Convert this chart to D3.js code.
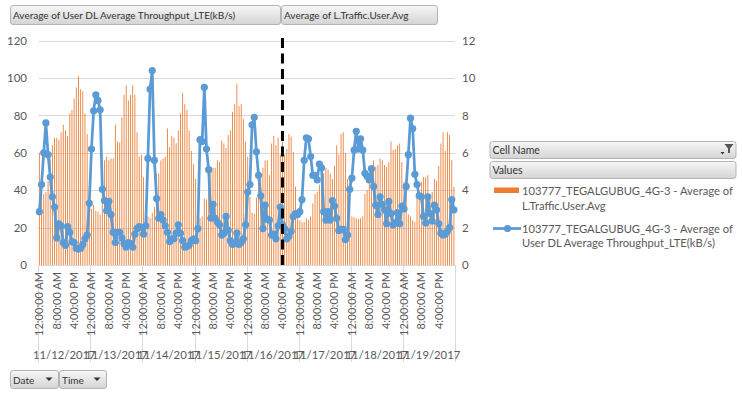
<!DOCTYPE html>
<html>
<head>
<meta charset="utf-8">
<script src="https://cdn.jsdelivr.net/npm/d3@7"></script>
<style>
  html, body { margin: 0; padding: 0; background: #fff; }
  svg { display: block; font-family: Lato, 'Liberation Sans', sans-serif; }
</style>
</head>
<body>
<div id="chart"></div>
<script>
const dates = ['11/12/2017', '11/13/2017', '11/14/2017', '11/15/2017', '11/16/2017', '11/17/2017', '11/18/2017', '11/19/2017'];
const hourTicks = [0, 8, 16];
const hourTickLabels = ['12:00:00 AM', '8:00:00 AM', '4:00:00 PM'];

// Average of User DL Average Throughput_LTE(kB/s), hourly, left axis
const throughput = [
  28.5, 43, 60, 76, 59, 47, 36.5, 31, 14.5, 22, 21, 12, 10.5, 20.5, 17.5, 12.5, 12, 9, 8.5, 9, 11, 14, 16, 33,
  62, 82.5, 91, 88, 83, 40.5, 34.5, 29, 34, 27, 17.5, 12, 17.5, 17.5, 14.5, 11.5, 9.5, 12, 11.5, 9.5, 16.5, 19.5, 20.5, 20,
  16.5, 21, 57, 94, 104, 56, 35.5, 25, 27, 24, 21, 17.5, 12.5, 14, 14, 17, 21.5, 17, 13, 9.5, 10, 10.5, 13, 14,
  13, 19.5, 67, 66, 95, 62, 51, 25, 32.5, 25, 23, 21.5, 16, 17, 26, 18.5, 13, 11, 11.5, 17, 11, 12, 14, 21.5,
  39, 43, 75, 79, 60.5, 48, 37, 19.5, 32, 24.5, 24, 16, 16.5, 14, 21, 31, 21.5, 19.5, 14, 15.5, 18, 26, 27.5, 27,
  28.5, 35, 56, 68, 67.5, 58, 48, 48, 45.5, 54, 52, 28.5, 24, 28.5, 24, 34.5, 31.5, 25, 18.5, 19, 19, 13.5, 16, 40.5,
  46.5, 61.5, 71.5, 62, 67.5, 61.5, 49, 47.5, 45.5, 51.5, 42, 32, 27, 36.5, 32.5, 29.5, 22, 34, 27.5, 21.5, 22.5, 28, 22, 31.5,
  30, 42, 59, 78.5, 73, 48.5, 43, 37, 36.5, 26, 22.5, 36.5, 27.5, 23.5, 32, 29.5, 22, 17, 16, 16.5, 18, 20, 35, 29.5
];

// Average of L.Traffic.User.Avg, hourly, right axis
const traffic = [
  6.0, 4.3, 3.8, 3.9, 4.5, 5.7, 6.4, 6.8, 6.8, 6.7, 7.1, 7.5, 7.2, 6.9, 8.1, 8.3, 8.9, 9.5, 10.1, 9.4, 9.3, 8.1, 7.0, 4.2,
  3.0, 3.2, 2.9, 2.85, 2.7, 4.5, 5.6, 5.8, 5.6, 5.7, 5.7, 7.5, 6.6, 6.55, 7.9, 9.1, 9.6, 8.8, 9.1, 9.6, 9.1, 7.1, 5.8, 5.9,
  4.7, 3.4, 2.6, 2.5, 2.8, 3.1, 4.9, 4.9, 5.6, 5.7, 5.8, 7.3, 6.3, 6.9, 6.8, 6.5, 7.2, 8.1, 9.2, 8.6, 8.3, 7.2, 6.1, 5.4,
  4.6, 2.8, 2.5, 2.6, 3.55, 3.5, 5.0, 5.2, 5.2, 5.2, 5.6, 5.5, 6.65, 6.5, 6.25, 6.95, 7.2, 8.2, 8.6, 9.7, 8.5, 8.6, 7.8, 6.6,
  5.8, 3.65, 2.8, 2.75, 3.6, 4.6, 4.9, 5.2, 5.6, 5.6, 4.8, 6.5, 6.9, 6.4, 6.8, 5.9, 6.6, 5.9, 6.2, 7.0, 6.85, 6.05, 4.2, 2.9,
  2.4, 2.3, 2.3, 2.5, 2.4, 2.6, 3.3, 3.8, 3.9, 4.3, 4.8, 4.9, 5.2, 5.1, 4.9, 4.6, 5.3, 6.4, 5.9, 7.0, 7.1, 6.0, 4.6, 4.5,
  2.6, 2.55, 2.5, 2.45, 2.5, 2.6, 3.8, 4.0, 4.4, 4.45, 5.6, 5.25, 5.35, 5.7, 5.6, 5.35, 5.25, 5.5, 6.6, 6.15, 6.2, 6.4, 6.5, 5.5,
  4.45, 4.2, 2.7, 2.6, 2.4, 2.3, 3.85, 3.85, 4.45, 4.7, 4.7, 4.8, 3.8, 3.9, 4.6, 4.5, 5.3, 6.5, 7.1, 6.1, 7.1, 6.95, 5.6, 4.2
];

const leftTicks = [0, 20, 40, 60, 80, 100, 120];
const rightTicks = [0, 2, 4, 6, 8, 10, 12];
const markerDate = '11/16/2017';
const markerHour = 16;
const legendLabels = [
  ['103777_TEGALGUBUG_4G-3 - Average of', 'L.Traffic.User.Avg'],
  ['103777_TEGALGUBUG_4G-3 - Average of', 'User DL Average Throughput_LTE(kB/s)']
];

const ORANGE = '#ED7D31';
const BLUE = '#5B9BD5';
const GRID = '#d9d9d9';
const TEXT = '#595959';

const W = 742;
const H = 396;
const plot = { left: 38.3, right: 455, top: 40.6, bottom: 265 };

const categories = dates.flatMap((d) => d3.range(24).map((h) => ({ date: d, hour: h })));

const svg = d3.select('#chart').append('svg').attr('width', W).attr('height', H);

const defs = svg.append('defs');
const grad = defs.append('linearGradient').attr('id', 'btn').attr('x1', 0).attr('y1', 0).attr('x2', 0).attr('y2', 1);
grad.append('stop').attr('offset', '0%').attr('stop-color', '#f7f7f7');
grad.append('stop').attr('offset', '100%').attr('stop-color', '#d4d4d4');

const x = d3.scaleBand().domain(d3.range(categories.length)).range([plot.left, plot.right]).padding(0);
const yL = d3.scaleLinear().domain([0, 120]).range([plot.bottom, plot.top]);
const yR = d3.scaleLinear().domain([0, 12]).range([plot.bottom, plot.top]);

// gridlines
svg.append('g')
  .selectAll('line')
  .data(leftTicks)
  .join('line')
  .attr('x1', plot.left)
  .attr('x2', plot.right)
  .attr('y1', (d) => Math.round(yL(d)) + 0.5)
  .attr('y2', (d) => Math.round(yL(d)) + 0.5)
  .attr('stroke', GRID)
  .attr('stroke-width', 1);

// left axis labels
const yAxisL = d3.axisLeft(yL).tickValues(leftTicks).tickSize(0).tickPadding(0);
svg.append('g')
  .attr('transform', 'translate(27,0)')
  .call(yAxisL)
  .call((g) => g.select('.domain').remove())
  .selectAll('text')
  .attr('fill', TEXT)
  .attr('font-size', 11.5)
  .attr('font-family', 'Lato, sans-serif');

// right axis labels
const yAxisR = d3.axisRight(yR).tickValues(rightTicks).tickSize(0).tickPadding(0);
svg.append('g')
  .attr('transform', 'translate(462,0)')
  .call(yAxisR)
  .call((g) => g.select('.domain').remove())
  .selectAll('text')
  .attr('fill', TEXT)
  .attr('font-size', 11.5)
  .attr('font-family', 'Lato, sans-serif');

// bars (right axis)
const barW = x.bandwidth() * 0.4;
svg.append('g')
  .selectAll('rect')
  .data(traffic)
  .join('rect')
  .attr('x', (d, i) => x(i) + (x.bandwidth() - barW) / 2)
  .attr('y', (d) => yR(d))
  .attr('width', barW)
  .attr('height', (d) => yR(0) - yR(d))
  .attr('fill', ORANGE);

// category axis: day separators
const dayEdges = dates.map((d) => x(categories.findIndex((c) => c.date === d))).concat([plot.right]);
svg.append('g')
  .selectAll('line')
  .data(dayEdges)
  .join('line')
  .attr('x1', (d) => Math.round(d) + 0.5)
  .attr('x2', (d) => Math.round(d) + 0.5)
  .attr('y1', plot.bottom)
  .attr('y2', 362)
  .attr('stroke', GRID);

// hour labels, rotated
const hourLabelData = categories
  .map((c, i) => ({ ...c, i }))
  .filter((c) => hourTicks.includes(c.hour));
svg.append('g')
  .selectAll('text')
  .data(hourLabelData)
  .join('text')
  .attr('transform', (d) => `translate(${x(d.i) + x.bandwidth() / 2},272) rotate(-90)`)
  .attr('text-anchor', 'end')
  .attr('dy', '0.35em')
  .attr('fill', TEXT)
  .attr('font-size', 11)
  .text((d) => hourTickLabels[hourTicks.indexOf(d.hour)]);

// date labels (they overlap a little, as in Excel)
svg.append('g')
  .selectAll('text')
  .data(dates)
  .join('text')
  .attr('x', (d, i) => (dayEdges[i] + dayEdges[i + 1]) / 2)
  .attr('y', 359)
  .attr('text-anchor', 'middle')
  .attr('fill', TEXT)
  .attr('font-size', 11.3)
  .text((d) => d);

// throughput line (left axis)
const cx = (i) => x(i) + x.bandwidth() / 2;
const line = d3.line().x((d, i) => cx(i)).y((d) => yL(d));
svg.append('path')
  .datum(throughput)
  .attr('d', line)
  .attr('fill', 'none')
  .attr('stroke', BLUE)
  .attr('stroke-width', 2.75)
  .attr('stroke-linejoin', 'round');
svg.append('g')
  .selectAll('circle')
  .data(throughput)
  .join('circle')
  .attr('cx', (d, i) => cx(i))
  .attr('cy', (d) => yL(d))
  .attr('r', 3.6)
  .attr('fill', BLUE);

// dashed marker line
const markIdx = categories.findIndex((c) => c.date === markerDate && c.hour === markerHour);
svg.append('line')
  .attr('x1', cx(markIdx))
  .attr('x2', cx(markIdx))
  .attr('y1', 38)
  .attr('y2', 270)
  .attr('stroke', '#000')
  .attr('stroke-width', 3)
  .attr('stroke-dasharray', '10,5.5');

// pivot field buttons
function drawButton(bx, by, bw, bh, label, opts = {}) {
  const g = svg.append('g').attr('transform', `translate(${bx},${by})`);
  g.append('rect')
    .attr('x', 0.5)
    .attr('y', 0.5)
    .attr('width', bw)
    .attr('height', bh)
    .attr('rx', 2.5)
    .attr('fill', 'url(#btn)')
    .attr('stroke', '#b5b5b5');
  g.append('text')
    .attr('x', 3)
    .attr('y', bh / 2 + 1)
    .attr('dy', '0.35em')
    .attr('fill', '#333')
    .attr('font-size', opts.fontSize || 10)
    .text(label);
  if (opts.arrow) {
    const ax = bw - 9;
    const ay = bh / 2;
    g.append('path').attr('d', `M${ax - 3.5},${ay - 1.5}L${ax + 3.5},${ay - 1.5}L${ax},${ay + 2}Z`).attr('fill', '#333');
  }
  if (opts.filter) {
    const fx = bw - 11;
    g.append('path')
      .attr('d', `M${fx},3L${fx + 9},3L${fx + 5.5},7.5L${fx + 5.5},12L${fx + 3.5},12L${fx + 3.5},7.5Z`)
      .attr('fill', '#555');
    g.append('path').attr('d', `M${fx - 4},11L${fx},11L${fx - 2},13.5Z`).attr('fill', '#333');
  }
  return g;
}

drawButton(10, 5, 270, 19, 'Average of User DL Average Throughput_LTE(kB/s)');
drawButton(281, 5, 156, 19, 'Average of L.Traffic.User.Avg');
drawButton(10, 370, 48, 18, 'Date', { arrow: true });
drawButton(59, 370, 47, 18, 'Time', { arrow: true });
drawButton(489.5, 141, 246, 17, 'Cell Name', { filter: true, fontSize: 10.5 });
drawButton(489.5, 161, 246, 17, 'Values', { fontSize: 10.5 });

// legend
const legend = svg.append('g');
legend.append('rect').attr('x', 494).attr('y', 187.5).attr('width', 25).attr('height', 5.5).attr('fill', ORANGE);
legend.append('line').attr('x1', 493).attr('x2', 521).attr('y1', 228.5).attr('y2', 228.5).attr('stroke', BLUE).attr('stroke-width', 2.75);
legend.append('circle').attr('cx', 507.5).attr('cy', 228.5).attr('r', 3.6).attr('fill', BLUE);
const legendRows = [
  { lines: legendLabels[0], y: 195 },
  { lines: legendLabels[1], y: 232.5 }
];
legendRows.forEach((r) => {
  r.lines.forEach((txt, k) => {
    legend.append('text')
      .attr('x', 522)
      .attr('y', r.y + k * 14.5)
      .attr('fill', TEXT)
      .attr('font-size', 11.2)
      .text(txt);
  });
});
</script>
</body>
</html>
